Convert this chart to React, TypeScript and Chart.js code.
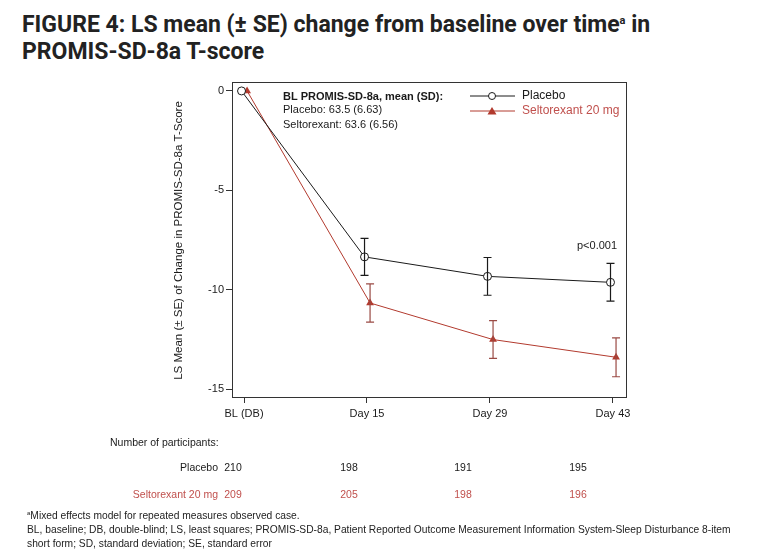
import React, { useEffect, useRef } from "react";
import { Chart, registerables } from "chart.js";

Chart.register(...registerables);

const timepoints = ["BL (DB)", "Day 15", "Day 29", "Day 43"];
const placeboMean = [0, -8.35, -9.33, -9.63];
const placeboSE = [0, 0.93, 0.95, 0.95];
const seltMean = [0, -10.67, -12.51, -13.4];
const seltSE = [0, 0.96, 0.95, 0.98];
const yTicks = [0, -5, -10, -15];
const placeboN = [210, 198, 191, 195];
const seltN = [209, 205, 198, 196];
const seriesNames = ["Placebo", "Seltorexant 20 mg"];
const baselineNotes = ["BL PROMIS-SD-8a, mean (SD):", "Placebo: 63.5 (6.63)", "Seltorexant: 63.6 (6.56)"];
const pText = "p<0.001";

const FONT = "'Liberation Sans', Arial, sans-serif";
const BLACK = "#1a1a1a";
const RED = "#b23a2e";
const RED_TEXT = "#c0504d";

const errorBarPlugin = {
  id: "errorBars",
  afterDatasetsDraw(chart: any) {
    const ctx = chart.ctx;
    chart.data.datasets.forEach((ds: any, di: number) => {
      const meta = chart.getDatasetMeta(di);
      const se: number[] = ds.se;
      if (!se) return;
      ctx.save();
      ctx.strokeStyle = ds.errColor;
      ctx.lineWidth = 1.2;
      ds.data.forEach((pt: any, i: number) => {
        if (!se[i]) return;
        const x = meta.data[i].x;
        const yt = chart.scales.y.getPixelForValue(pt.y + se[i]);
        const yb = chart.scales.y.getPixelForValue(pt.y - se[i]);
        ctx.beginPath();
        ctx.moveTo(x, yt);
        ctx.lineTo(x, yb);
        ctx.moveTo(x - 4, yt);
        ctx.lineTo(x + 4, yt);
        ctx.moveTo(x - 4, yb);
        ctx.lineTo(x + 4, yb);
        ctx.stroke();
      });
      ctx.restore();
    });
  },
};

const decorPlugin = {
  id: "decor",
  afterDraw(chart: any) {
    const ctx = chart.ctx;
    const a = chart.chartArea;
    ctx.save();
    // frame
    ctx.strokeStyle = "#333";
    ctx.lineWidth = 1;
    ctx.strokeRect(a.left + 0.5, a.top + 0.5, a.right - a.left, a.bottom - a.top);

    // y axis title
    ctx.save();
    ctx.translate(179, (a.top + a.bottom) / 2 + 1);
    ctx.rotate(-Math.PI / 2);
    ctx.fillStyle = BLACK;
    ctx.font = `11.5px ${FONT}`;
    ctx.textAlign = "center";
    ctx.textBaseline = "middle";
    ctx.fillText("LS Mean (± SE) of Change in PROMIS-SD-8a T-Score", 0, 0);
    ctx.restore();

    // baseline annotation
    ctx.fillStyle = BLACK;
    ctx.textAlign = "left";
    ctx.textBaseline = "middle";
    ctx.font = `bold 11px ${FONT}`;
    ctx.fillText(baselineNotes[0], 283, 97);
    ctx.font = `11px ${FONT}`;
    ctx.fillText(baselineNotes[1], 283, 110);
    ctx.fillText(baselineNotes[2], 283, 125);

    // legend
    const legRows = [
      { y: 96, color: BLACK, text: BLACK, type: "circle" },
      { y: 111, color: RED, text: RED_TEXT, type: "triangle" },
    ];
    legRows.forEach((r, i) => {
      ctx.strokeStyle = r.color;
      ctx.lineWidth = 1;
      ctx.beginPath();
      ctx.moveTo(470, r.y);
      ctx.lineTo(515, r.y);
      ctx.stroke();
      if (r.type === "circle") {
        ctx.fillStyle = "#fff";
        ctx.beginPath();
        ctx.arc(492, r.y, 3.5, 0, Math.PI * 2);
        ctx.fill();
        ctx.stroke();
      } else {
        ctx.fillStyle = RED;
        ctx.beginPath();
        ctx.moveTo(492, r.y - 4);
        ctx.lineTo(496.5, r.y + 3.5);
        ctx.lineTo(487.5, r.y + 3.5);
        ctx.closePath();
        ctx.fill();
      }
      ctx.fillStyle = r.text;
      ctx.font = `12px ${FONT}`;
      ctx.fillText(seriesNames[i], 522, r.y);
    });

    // p value
    ctx.fillStyle = BLACK;
    ctx.font = `11px ${FONT}`;
    ctx.textAlign = "center";
    ctx.fillText(pText, 597, 246);

    // participants table
    ctx.textAlign = "left";
    ctx.font = `10.5px ${FONT}`;
    ctx.fillStyle = BLACK;
    ctx.fillText("Number of participants:", 110, 443);
    const cols = [233, 349, 463, 578];
    const rows = [
      { y: 468, label: seriesNames[0], vals: placeboN, color: BLACK },
      { y: 495, label: seriesNames[1], vals: seltN, color: RED_TEXT },
    ];
    rows.forEach((r) => {
      ctx.fillStyle = r.color;
      ctx.textAlign = "right";
      ctx.fillText(r.label, 218, r.y);
      ctx.textAlign = "center";
      r.vals.forEach((v, i) => ctx.fillText(String(v), cols[i], r.y));
    });
    ctx.restore();
  },
};

export default function App() {
  const ref = useRef<HTMLCanvasElement | null>(null);
  useEffect(() => {
    if (!ref.current) return;
    const chart = new Chart(ref.current, {
      type: "line",
      data: {
        datasets: [
          {
            label: seriesNames[0],
            data: placeboMean.map((y, i) => ({ x: i - 0.02, y })),
            se: placeboSE,
            errColor: BLACK,
            borderColor: BLACK,
            borderWidth: 1,
            pointStyle: "circle",
            pointRadius: 4,
            pointBorderWidth: 1,
            pointBackgroundColor: "#fff",
            pointBorderColor: BLACK,
            tension: 0,
          } as any,
          {
            label: seriesNames[1],
            data: seltMean.map((y, i) => ({ x: i + 0.025, y })),
            se: seltSE,
            errColor: "#9a4a44",
            borderColor: RED,
            borderWidth: 1,
            pointStyle: "triangle",
            pointRadius: 4.5,
            pointBorderWidth: 0,
            pointBackgroundColor: RED,
            pointBorderColor: RED,
            tension: 0,
          } as any,
        ],
      },
      options: {
        animation: false,
        responsive: false,
        devicePixelRatio: 1,
        layout: { padding: { top: 82, right: 134, left: 0, bottom: 0 } },
        plugins: { legend: { display: false }, tooltip: { enabled: false } },
        scales: {
          x: {
            type: "linear",
            min: -0.0976,
            max: 3.106,
            afterBuildTicks: (s: any) => {
              s.ticks = timepoints.map((_, i) => ({ value: i }));
            },
            afterFit: (s: any) => {
              s.height = 156;
            },
            ticks: {
              callback: (v: any) => timepoints[v] ?? "",
              font: { size: 11, family: FONT },
              color: BLACK,
              padding: 4,
              autoSkip: false,
              maxRotation: 0,
            },
            grid: { display: true, drawOnChartArea: false, drawTicks: true, tickLength: 6, color: "#333" },
            border: { display: true, color: "#333" },
          },
          y: {
            min: -15.4,
            max: 0.45,
            afterBuildTicks: (s: any) => {
              s.ticks = yTicks.map((v) => ({ value: v }));
            },
            afterFit: (s: any) => {
              s.width = 232;
            },
            ticks: {
              font: { size: 11, family: FONT },
              color: BLACK,
              padding: 2,
            },
            grid: { display: true, drawOnChartArea: false, drawTicks: true, tickLength: 6, color: "#333" },
            border: { display: true, color: "#333" },
          },
        },
      } as any,
      plugins: [errorBarPlugin, decorPlugin],
    });
    return () => chart.destroy();
  }, []);

  return (
    <div style={{ position: "absolute", left: 0, top: 0, width: 760, height: 553, background: "#fff", overflow: "hidden" }}>
      <div
        style={{
          position: "absolute",
          left: 22,
          top: 11,
          fontFamily: "Roboto, 'Liberation Sans', sans-serif",
          fontWeight: 700,
          fontSize: 23,
          lineHeight: "27px",
          color: "#222",
          letterSpacing: 0,
          whiteSpace: "nowrap",
        }}
      >
        FIGURE 4: LS mean (± SE) change from baseline over time<sup style={{ fontSize: 11, verticalAlign: 8, lineHeight: 0 }}>a</sup> in
        <br />
        PROMIS-SD-8a T-score
      </div>
      <canvas ref={ref} width={760} height={553} style={{ position: "absolute", left: 0, top: 0 }} />
      <div
        style={{
          position: "absolute",
          left: 27,
          top: 509,
          fontFamily: FONT,
          fontSize: 10.25,
          lineHeight: "14px",
          color: "#222",
          whiteSpace: "nowrap",
        }}
      >
        <sup style={{ fontSize: 6, verticalAlign: 4, lineHeight: 0 }}>a</sup>Mixed effects model for repeated measures observed case.
        <br />
        BL, baseline; DB, double-blind; LS, least squares; PROMIS-SD-8a, Patient Reported Outcome Measurement Information System-Sleep Disturbance 8-item
        <br />
        short form; SD, standard deviation; SE, standard error
      </div>
    </div>
  );
}
